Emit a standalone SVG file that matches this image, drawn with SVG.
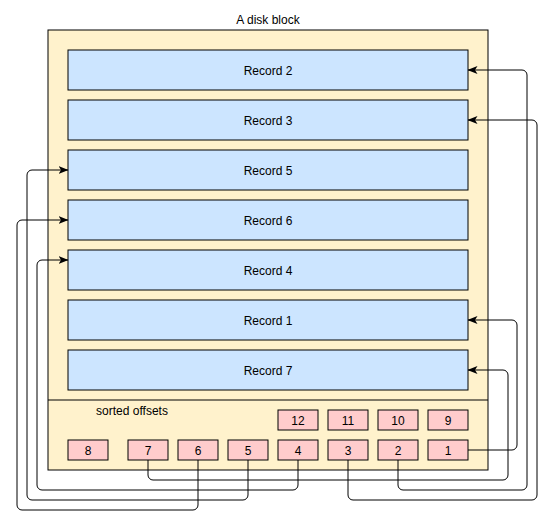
<svg xmlns="http://www.w3.org/2000/svg" width="556" height="529" viewBox="0 0 556 529">
<style>
text{font-family:"Liberation Sans",Arial,Helvetica,sans-serif;font-size:12px;fill:#000;text-anchor:middle}
.rec{fill:#cce5ff;stroke:#000;stroke-width:1}
.off{fill:#ffcccc;stroke:#000;stroke-width:1}
.blk{fill:#fff2cc;stroke:#000;stroke-width:1}
.con{fill:none;stroke:#000;stroke-width:1;marker-end:url(#arr)}
</style>
<defs>
<marker id="arr" markerUnits="userSpaceOnUse" viewBox="0 0 10 8" markerWidth="10" markerHeight="8" refX="9.5" refY="4" orient="auto">
<path d="M0,0 L10,4 L0,8 L2.5,4 Z" fill="#000"/>
</marker>
</defs>
<rect width="556" height="529" fill="#fff"/>
<g id="block">
<rect class="blk" x="48" y="30" width="440" height="440"/>
<line x1="48" y1="400" x2="488" y2="400" stroke="#000"/>
<text x="268" y="24">A disk block</text>
<text x="132" y="415">sorted offsets</text>
</g>
<g id="record2"><rect class="rec" x="68" y="50" width="400" height="40"/><text x="268" y="75">Record 2</text></g>
<g id="record3"><rect class="rec" x="68" y="100" width="400" height="40"/><text x="268" y="125">Record 3</text></g>
<g id="record5"><rect class="rec" x="68" y="150" width="400" height="40"/><text x="268" y="175">Record 5</text></g>
<g id="record6"><rect class="rec" x="68" y="200" width="400" height="40"/><text x="268" y="225">Record 6</text></g>
<g id="record4"><rect class="rec" x="68" y="250" width="400" height="40"/><text x="268" y="275">Record 4</text></g>
<g id="record1"><rect class="rec" x="68" y="300" width="400" height="40"/><text x="268" y="325">Record 1</text></g>
<g id="record7"><rect class="rec" x="68" y="350" width="400" height="40"/><text x="268" y="375">Record 7</text></g>
<g id="off12"><rect class="off" x="278" y="410" width="40" height="20"/><text x="298" y="425">12</text></g>
<g id="off11"><rect class="off" x="328" y="410" width="40" height="20"/><text x="348" y="425">11</text></g>
<g id="off10"><rect class="off" x="378" y="410" width="40" height="20"/><text x="398" y="425">10</text></g>
<g id="off9"><rect class="off" x="428" y="410" width="40" height="20"/><text x="448" y="425">9</text></g>
<g id="off8"><rect class="off" x="68" y="440" width="40" height="20"/><text x="88" y="455">8</text></g>
<g id="off7"><rect class="off" x="128" y="440" width="40" height="20"/><text x="148" y="455">7</text></g>
<g id="off6"><rect class="off" x="178" y="440" width="40" height="20"/><text x="198" y="455">6</text></g>
<g id="off5"><rect class="off" x="228" y="440" width="40" height="20"/><text x="248" y="455">5</text></g>
<g id="off4"><rect class="off" x="278" y="440" width="40" height="20"/><text x="298" y="455">4</text></g>
<g id="off3"><rect class="off" x="328" y="440" width="40" height="20"/><text x="348" y="455">3</text></g>
<g id="off2"><rect class="off" x="378" y="440" width="40" height="20"/><text x="398" y="455">2</text></g>
<g id="off1"><rect class="off" x="428" y="440" width="40" height="20"/><text x="448" y="455">1</text></g>
<g id="connectors">
<path class="con" d="M468,450 H512 A5,5 0 0 0 517,445 V325 A5,5 0 0 0 512,320 H468"/>
<path class="con" d="M398,460 V485 A5,5 0 0 0 403,490 H522 A5,5 0 0 0 527,485 V75 A5,5 0 0 0 522,70 H468"/>
<path class="con" d="M348,460 V495 A5,5 0 0 0 353,500 H532 A5,5 0 0 0 537,495 V125 A5,5 0 0 0 532,120 H468"/>
<path class="con" d="M148,460 V475 A5,5 0 0 0 153,480 H503 A5,5 0 0 0 508,475 V375 A5,5 0 0 0 503,370 H468"/>
<path class="con" d="M298,460 V485 A5,5 0 0 1 293,490 H42 A5,5 0 0 1 37,485 V265 A5,5 0 0 1 42,260 H68"/>
<path class="con" d="M248,460 V495 A5,5 0 0 1 243,500 H32 A5,5 0 0 1 27,495 V175 A5,5 0 0 1 32,170 H68"/>
<path class="con" d="M198,460 V505 A5,5 0 0 1 193,510 H22 A5,5 0 0 1 17,505 V225 A5,5 0 0 1 22,220 H68"/>
</g>
</svg>
